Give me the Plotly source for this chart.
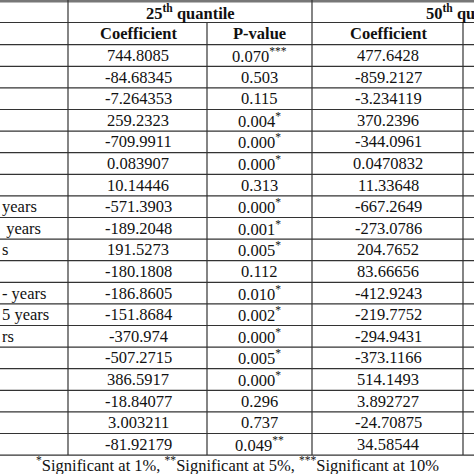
import plotly.graph_objects as go

row_labels = ["", "", "", "", "", "", "", "years", " years", "s", "", "- years", "5 years", "rs", "", "", "", "", ""]
coef25 = ["744.8085", "-84.68345", "-7.264353", "259.2323", "-709.9911", "0.083907", "10.14446",
          "-571.3903", "-189.2048", "191.5273", "-180.1808", "-186.8605", "-151.8684", "-370.974",
          "-507.2715", "386.5917", "-18.84077", "3.003211", "-81.92179"]
pval25 = ["0.070", "0.503", "0.115", "0.004", "0.000", "0.000", "0.313", "0.000", "0.001", "0.005",
          "0.112", "0.010", "0.002", "0.000", "0.005", "0.000", "0.296", "0.737", "0.049"]
sig25 = ["***", "", "", "*", "*", "*", "", "*", "*", "*", "", "*", "*", "*", "*", "*", "", "", "**"]
coef50 = ["477.6428", "-859.2127", "-3.234119", "370.2396", "-344.0961", "0.0470832", "11.33648",
          "-667.2649", "-273.0786", "204.7652", "83.66656", "-412.9243", "-219.7752", "-294.9431",
          "-373.1166", "514.1493", "3.892727", "-24.70875", "34.58544"]

FONT = "Liberation Serif, Times New Roman, serif"
row_h = 21.6
y0 = 55.5

fig = go.Figure()
fig.add_trace(go.Scatter(x=[0, 474], y=[0, 474], mode="markers", marker=dict(opacity=0), hoverinfo="skip"))

ann = []
def t(x, y, s, anchor="center", bold=False, size=16.5):
    ann.append(dict(x=x, y=y, text=("<b>%s</b>" % s) if bold else s, showarrow=False, xanchor=anchor,
                    yanchor="middle", font=dict(family=FONT, size=size, color="#111")))

t(190, 12, "25<sup>th</sup> quantile", bold=True)
t(470, 12, "50<sup>th</sup> quantile", bold=True)
t(138, 33, "Coefficient", bold=True)
t(259, 33, "P-value", bold=True)
t(388, 33, "Coefficient", bold=True)

for i in range(len(coef25)):
    y = y0 + i * row_h
    t(138, y, coef25[i])
    t(259, y, pval25[i] + ("<sup>%s</sup>" % sig25[i] if sig25[i] else ""))
    t(388, y, coef50[i])
    if row_labels[i]:
        t(0, y, row_labels[i], anchor="left")

t(237, 464, "<sup>*</sup>Significant at 1%, <sup>**</sup>Significant at 5%, <sup>***</sup>Significant at 10%")

shapes = []
def hl(y, w=1.2, c="#333"):
    shapes.append(dict(type="line", x0=0, x1=474, y0=y, y1=y, line=dict(color=c, width=w)))
def vl(x, ya, yb):
    shapes.append(dict(type="line", x0=x, x1=x, y0=ya, y1=yb, line=dict(color="#333", width=1.2)))

bottom = y0 - row_h / 2 + len(coef25) * row_h
hl(1, 3, "#777")
hl(22.5)
for i in range(len(coef25) + 1):
    hl(y0 - row_h / 2 + i * row_h)
vl(68, 0, bottom)
vl(207, 22.5, bottom)
vl(312, 0, bottom)
vl(463, 22.5, bottom)

fig.update_layout(width=474, height=474, margin=dict(l=0, r=0, t=0, b=0),
                  paper_bgcolor="white", plot_bgcolor="white", showlegend=False,
                  xaxis=dict(range=[0, 474], visible=False, fixedrange=True),
                  yaxis=dict(range=[474, 0], visible=False, fixedrange=True),
                  annotations=ann, shapes=shapes)
fig.write_html("out.html", config={"displayModeBar": False})
with open("out.html", encoding="utf-8") as f:
    html = f.read()
html = html.replace("<head>", "<head><style>html,body{margin:0;padding:0;overflow:hidden}</style>", 1)
with open("out.html", "w", encoding="utf-8") as f:
    f.write(html)
